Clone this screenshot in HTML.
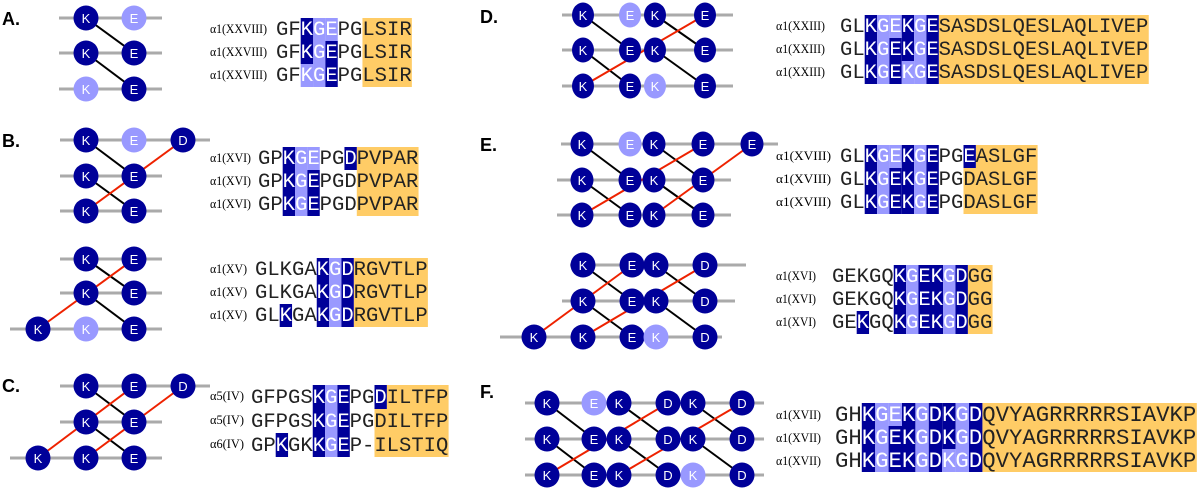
<!DOCTYPE html>
<html><head><meta charset="utf-8"><style>
html,body{margin:0;padding:0;background:#fff;width:1200px;height:488px;overflow:hidden}
svg{display:block}
.g{stroke:#aaa;stroke-width:3}
.bk{stroke:#000;stroke-width:2}
.rd{stroke:#ee2200;stroke-width:2}
.n{fill:#000099}
.l{fill:#9999ff}
.t{font-family:"Liberation Sans",sans-serif;font-size:13px;fill:#fff;text-anchor:middle}
.p{font-family:"Liberation Sans",sans-serif;font-weight:bold;font-size:18px;fill:#000}
.lb{font-family:"Liberation Serif",serif;font-size:13px;fill:#000}
.s{font-family:"Liberation Mono",monospace;font-size:20.55px;fill:#222}
.sf{font-family:"Liberation Mono",monospace;font-size:22.3px;fill:#222}
.d{fill:#000099}.li{fill:#9999ff}.o{fill:#ffcc66}
tspan.w{fill:#fff}
</style></head><body>
<svg width="1200" height="488" viewBox="0 0 1200 488" xmlns="http://www.w3.org/2000/svg">
<!-- Panel letters -->
<text class="p" x="2" y="25">A.</text>
<text class="p" x="2" y="147">B.</text>
<text class="p" x="2" y="392">C.</text>
<text class="p" x="480" y="23">D.</text>
<text class="p" x="480" y="151">E.</text>
<text class="p" x="480" y="398">F.</text>

<!-- ===== A diagram ===== -->
<line class="g" x1="59" y1="18" x2="162" y2="18"/>
<line class="g" x1="59" y1="53" x2="162" y2="53"/>
<line class="g" x1="59" y1="89" x2="162" y2="89"/>
<line class="bk" x1="86" y1="18" x2="134" y2="53"/>
<line class="bk" x1="86" y1="53" x2="134" y2="89"/>
<circle class="n" cx="86" cy="18" r="12.5"/><text class="t" x="86" y="23">K</text>
<circle class="l" cx="134" cy="18" r="12.5"/><text class="t" x="134" y="23">E</text>
<circle class="n" cx="86" cy="53" r="12.5"/><text class="t" x="86" y="58">K</text>
<circle class="n" cx="134" cy="53" r="12.5"/><text class="t" x="134" y="58">E</text>
<circle class="l" cx="86" cy="89" r="12.5"/><text class="t" x="86" y="94">K</text>
<circle class="n" cx="134" cy="89" r="12.5"/><text class="t" x="134" y="94">E</text>

<!-- A seq -->
<rect class="o" x="362.45" y="18" width="49.4" height="69"/>
<rect class="li" x="313.05" y="18" width="12.35" height="69"/>
<rect class="d" x="300.7" y="18" width="12.35" height="46"/>
<rect class="li" x="300.7" y="64" width="12.35" height="23"/>
<rect class="li" x="325.4" y="18" width="12.35" height="23"/>
<rect class="d" x="325.4" y="41" width="12.35" height="46"/>
<text class="lb" x="210" y="33" textLength="57" lengthAdjust="spacingAndGlyphs">α1(XXVIII)</text>
<text class="lb" x="210" y="56" textLength="57" lengthAdjust="spacingAndGlyphs">α1(XXVIII)</text>
<text class="lb" x="210" y="79" textLength="57" lengthAdjust="spacingAndGlyphs">α1(XXVIII)</text>
<text class="s" x="276" y="35">GF<tspan class="w">KGE</tspan>PGLSIR</text>
<text class="s" x="276" y="58">GF<tspan class="w">KGE</tspan>PGLSIR</text>
<text class="s" x="276" y="81">GF<tspan class="w">KGE</tspan>PGLSIR</text>

<!-- ===== B diagram ===== -->
<line class="g" x1="60" y1="140" x2="210" y2="140"/>
<line class="g" x1="60" y1="176" x2="162" y2="176"/>
<line class="g" x1="60" y1="211" x2="162" y2="211"/>
<line class="bk" x1="86" y1="140" x2="134" y2="176"/>
<line class="bk" x1="86" y1="176" x2="134" y2="211"/>
<line class="rd" x1="86" y1="211" x2="183" y2="140"/>
<circle class="n" cx="86" cy="140" r="12.5"/><text class="t" x="86" y="145">K</text>
<circle class="l" cx="134" cy="140" r="12.5"/><text class="t" x="134" y="145">E</text>
<circle class="n" cx="183" cy="140" r="12.5"/><text class="t" x="183" y="145">D</text>
<circle class="n" cx="86" cy="176" r="12.5"/><text class="t" x="86" y="181">K</text>
<circle class="n" cx="134" cy="176" r="12.5"/><text class="t" x="134" y="181">E</text>
<circle class="n" cx="86" cy="211" r="12.5"/><text class="t" x="86" y="216">K</text>
<circle class="n" cx="134" cy="211" r="12.5"/><text class="t" x="134" y="216">E</text>

<!-- B seq -->
<rect class="o" x="356.8" y="147" width="61.75" height="69"/>
<rect class="d" x="282.7" y="147" width="12.35" height="69"/>
<rect class="li" x="295.05" y="147" width="12.35" height="69"/>
<rect class="li" x="307.4" y="147" width="12.35" height="23"/>
<rect class="d" x="307.4" y="170" width="12.35" height="46"/>
<rect class="d" x="344.45" y="147" width="12.35" height="23"/>
<text class="lb" x="210" y="162" textLength="41" lengthAdjust="spacingAndGlyphs">α1(XVI)</text>
<text class="lb" x="210" y="185" textLength="41" lengthAdjust="spacingAndGlyphs">α1(XVI)</text>
<text class="lb" x="210" y="208" textLength="41" lengthAdjust="spacingAndGlyphs">α1(XVI)</text>
<text class="s" x="258" y="164">GP<tspan class="w">KGE</tspan>PG<tspan class="w">D</tspan>PVPAR</text>
<text class="s" x="258" y="187">GP<tspan class="w">KGE</tspan>PGDPVPAR</text>
<text class="s" x="258" y="210">GP<tspan class="w">KGE</tspan>PGDPVPAR</text>

<!-- ===== B2 diagram ===== -->
<line class="g" x1="60" y1="259" x2="162" y2="259"/>
<line class="g" x1="60" y1="293" x2="162" y2="293"/>
<line class="g" x1="10" y1="329" x2="162" y2="329"/>
<line class="bk" x1="86" y1="259" x2="134" y2="293"/>
<line class="bk" x1="86" y1="293" x2="134" y2="329"/>
<line class="rd" x1="38" y1="329" x2="134" y2="259"/>
<circle class="n" cx="86" cy="259" r="12.5"/><text class="t" x="86" y="264">K</text>
<circle class="n" cx="134" cy="259" r="12.5"/><text class="t" x="134" y="264">E</text>
<circle class="n" cx="86" cy="293" r="12.5"/><text class="t" x="86" y="298">K</text>
<circle class="n" cx="134" cy="293" r="12.5"/><text class="t" x="134" y="298">E</text>
<circle class="n" cx="38" cy="329" r="12.5"/><text class="t" x="38" y="334">K</text>
<circle class="l" cx="86" cy="329" r="12.5"/><text class="t" x="86" y="334">K</text>
<circle class="n" cx="134" cy="329" r="12.5"/><text class="t" x="134" y="334">E</text>

<!-- B2 seq -->
<rect class="o" x="353.8" y="258" width="74.1" height="69"/>
<rect class="d" x="316.75" y="258" width="12.35" height="69"/>
<rect class="li" x="329.1" y="258" width="12.35" height="69"/>
<rect class="d" x="341.45" y="258" width="12.35" height="69"/>
<rect class="d" x="279.7" y="304" width="12.35" height="23"/>
<text class="lb" x="210" y="273" textLength="37" lengthAdjust="spacingAndGlyphs">α1(XV)</text>
<text class="lb" x="210" y="296" textLength="37" lengthAdjust="spacingAndGlyphs">α1(XV)</text>
<text class="lb" x="210" y="319" textLength="37" lengthAdjust="spacingAndGlyphs">α1(XV)</text>
<text class="s" x="255" y="275">GLKGA<tspan class="w">KGD</tspan>RGVTLP</text>
<text class="s" x="255" y="298">GLKGA<tspan class="w">KGD</tspan>RGVTLP</text>
<text class="s" x="255" y="321">GL<tspan class="w">K</tspan>GA<tspan class="w">KGD</tspan>RGVTLP</text>

<!-- ===== C diagram ===== -->
<line class="g" x1="60" y1="386" x2="210" y2="386"/>
<line class="g" x1="60" y1="422" x2="162" y2="422"/>
<line class="g" x1="10" y1="458" x2="162" y2="458"/>
<line class="bk" x1="86" y1="386" x2="134" y2="422"/>
<line class="bk" x1="86" y1="422" x2="134" y2="458"/>
<line class="rd" x1="38" y1="458" x2="134" y2="386"/>
<line class="rd" x1="86" y1="458" x2="183" y2="386"/>
<circle class="n" cx="86" cy="386" r="12.5"/><text class="t" x="86" y="391">K</text>
<circle class="n" cx="134" cy="386" r="12.5"/><text class="t" x="134" y="391">E</text>
<circle class="n" cx="183" cy="386" r="12.5"/><text class="t" x="183" y="391">D</text>
<circle class="n" cx="86" cy="422" r="12.5"/><text class="t" x="86" y="427">K</text>
<circle class="n" cx="134" cy="422" r="12.5"/><text class="t" x="134" y="427">E</text>
<circle class="n" cx="38" cy="458" r="12.5"/><text class="t" x="38" y="463">K</text>
<circle class="n" cx="86" cy="458" r="12.5"/><text class="t" x="86" y="463">K</text>
<circle class="n" cx="134" cy="458" r="12.5"/><text class="t" x="134" y="463">E</text>

<!-- C seq -->
<rect class="o" x="386.85" y="385" width="61.75" height="24"/>
<rect class="o" x="374.5" y="409" width="74.1" height="48"/>
<rect class="d" x="374.5" y="385" width="12.35" height="24"/>
<rect class="d" x="312.75" y="385" width="12.35" height="72"/>
<rect class="li" x="325.1" y="385" width="12.35" height="72"/>
<rect class="d" x="337.45" y="385" width="12.35" height="72"/>
<rect class="d" x="275.7" y="433" width="12.35" height="24"/>
<text class="lb" x="210" y="400" textLength="34" lengthAdjust="spacingAndGlyphs">α5(IV)</text>
<text class="lb" x="210" y="424" textLength="34" lengthAdjust="spacingAndGlyphs">α5(IV)</text>
<text class="lb" x="210" y="448" textLength="34" lengthAdjust="spacingAndGlyphs">α6(IV)</text>
<text class="s" x="251" y="403">GFPGS<tspan class="w">KGE</tspan>PG<tspan class="w">D</tspan>ILTFP</text>
<text class="s" x="251" y="427">GFPGS<tspan class="w">KGE</tspan>PGDILTFP</text>
<text class="s" x="251" y="451">GP<tspan class="w">K</tspan>GK<tspan class="w">KGE</tspan>P-ILSTIQ</text>

<!-- ===== D diagram ===== -->
<line class="g" x1="562" y1="15" x2="733" y2="15"/>
<line class="g" x1="562" y1="50" x2="733" y2="50"/>
<line class="g" x1="562" y1="86" x2="733" y2="86"/>
<line class="bk" x1="583" y1="15" x2="630" y2="50"/>
<line class="bk" x1="583" y1="50" x2="630" y2="86"/>
<line class="bk" x1="655" y1="15" x2="705" y2="50"/>
<line class="bk" x1="655" y1="50" x2="705" y2="86"/>
<line class="rd" x1="583" y1="86" x2="705" y2="15"/>
<ellipse class="n" cx="583" cy="15" rx="11" ry="12.5"/><text class="t" x="583" y="20">K</text>
<ellipse class="l" cx="630" cy="15" rx="11" ry="12.5"/><text class="t" x="630" y="20">E</text>
<ellipse class="n" cx="655" cy="15" rx="11" ry="12.5"/><text class="t" x="655" y="20">K</text>
<ellipse class="n" cx="705" cy="15" rx="11" ry="12.5"/><text class="t" x="705" y="20">E</text>
<ellipse class="n" cx="583" cy="50" rx="11" ry="12.5"/><text class="t" x="583" y="55">K</text>
<ellipse class="n" cx="630" cy="50" rx="11" ry="12.5"/><text class="t" x="630" y="55">E</text>
<ellipse class="n" cx="655" cy="50" rx="11" ry="12.5"/><text class="t" x="655" y="55">K</text>
<ellipse class="n" cx="705" cy="50" rx="11" ry="12.5"/><text class="t" x="705" y="55">E</text>
<ellipse class="n" cx="583" cy="86" rx="11" ry="12.5"/><text class="t" x="583" y="91">K</text>
<ellipse class="n" cx="630" cy="86" rx="11" ry="12.5"/><text class="t" x="630" y="91">E</text>
<ellipse class="l" cx="655" cy="86" rx="11" ry="12.5"/><text class="t" x="655" y="91">K</text>
<ellipse class="n" cx="705" cy="86" rx="11" ry="12.5"/><text class="t" x="705" y="91">E</text>

<!-- D seq -->
<rect class="o" x="938.8" y="15" width="209.95" height="69"/>
<rect class="d" x="864.7" y="15" width="12.35" height="69"/>
<rect class="li" x="877.05" y="15" width="12.35" height="69"/>
<rect class="li" x="889.4" y="15" width="12.35" height="23"/>
<rect class="d" x="889.4" y="38" width="12.35" height="46"/>
<rect class="d" x="901.75" y="15" width="12.35" height="46"/>
<rect class="li" x="901.75" y="61" width="12.35" height="23"/>
<rect class="li" x="914.1" y="15" width="12.35" height="69"/>
<rect class="d" x="926.45" y="15" width="12.35" height="69"/>
<text class="lb" x="776" y="30" textLength="49" lengthAdjust="spacingAndGlyphs">α1(XXIII)</text>
<text class="lb" x="776" y="53" textLength="49" lengthAdjust="spacingAndGlyphs">α1(XXIII)</text>
<text class="lb" x="776" y="76" textLength="49" lengthAdjust="spacingAndGlyphs">α1(XXIII)</text>
<text class="s" x="840" y="32">GL<tspan class="w">KGEKGE</tspan>SASDSLQESLAQLIVEP</text>
<text class="s" x="840" y="55">GL<tspan class="w">KGEKGE</tspan>SASDSLQESLAQLIVEP</text>
<text class="s" x="840" y="78">GL<tspan class="w">KGEKGE</tspan>SASDSLQESLAQLIVEP</text>

<!-- ===== E diagram ===== -->
<line class="g" x1="561" y1="144" x2="778" y2="144"/>
<line class="g" x1="557" y1="180" x2="731" y2="180"/>
<line class="g" x1="557" y1="215" x2="731" y2="215"/>
<line class="bk" x1="582" y1="144" x2="630" y2="180"/>
<line class="bk" x1="582" y1="180" x2="630" y2="215"/>
<line class="bk" x1="654" y1="144" x2="703" y2="180"/>
<line class="bk" x1="654" y1="180" x2="703" y2="215"/>
<line class="rd" x1="582" y1="215" x2="703" y2="144"/>
<line class="rd" x1="654" y1="215" x2="752" y2="144"/>
<ellipse class="n" cx="582" cy="144" rx="11.5" ry="12.5"/><text class="t" x="582" y="149">K</text>
<ellipse class="l" cx="630" cy="144" rx="11.5" ry="12.5"/><text class="t" x="630" y="149">E</text>
<ellipse class="n" cx="654" cy="144" rx="11.5" ry="12.5"/><text class="t" x="654" y="149">K</text>
<ellipse class="n" cx="703" cy="144" rx="11.5" ry="12.5"/><text class="t" x="703" y="149">E</text>
<ellipse class="n" cx="752" cy="144" rx="11.5" ry="12.5"/><text class="t" x="752" y="149">E</text>
<ellipse class="n" cx="582" cy="180" rx="11.5" ry="12.5"/><text class="t" x="582" y="185">K</text>
<ellipse class="n" cx="630" cy="180" rx="11.5" ry="12.5"/><text class="t" x="630" y="185">E</text>
<ellipse class="n" cx="654" cy="180" rx="11.5" ry="12.5"/><text class="t" x="654" y="185">K</text>
<ellipse class="n" cx="703" cy="180" rx="11.5" ry="12.5"/><text class="t" x="703" y="185">E</text>
<ellipse class="n" cx="582" cy="215" rx="11.5" ry="12.5"/><text class="t" x="582" y="220">K</text>
<ellipse class="n" cx="630" cy="215" rx="11.5" ry="12.5"/><text class="t" x="630" y="220">E</text>
<ellipse class="n" cx="654" cy="215" rx="11.5" ry="12.5"/><text class="t" x="654" y="220">K</text>
<ellipse class="n" cx="703" cy="215" rx="11.5" ry="12.5"/><text class="t" x="703" y="220">E</text>

<!-- E seq -->
<rect class="o" x="975.85" y="145" width="61.75" height="23"/>
<rect class="o" x="963.5" y="168" width="74.1" height="46"/>
<rect class="d" x="963.5" y="145" width="12.35" height="23"/>
<rect class="d" x="864.7" y="145" width="12.35" height="69"/>
<rect class="li" x="877.05" y="145" width="12.35" height="69"/>
<rect class="li" x="889.4" y="145" width="12.35" height="23"/>
<rect class="d" x="889.4" y="168" width="12.35" height="46"/>
<rect class="d" x="901.75" y="145" width="12.35" height="69"/>
<rect class="li" x="914.1" y="145" width="12.35" height="69"/>
<rect class="d" x="926.45" y="145" width="12.35" height="69"/>
<text class="lb" x="776" y="160" textLength="55" lengthAdjust="spacingAndGlyphs">α1(XVIII)</text>
<text class="lb" x="776" y="183" textLength="55" lengthAdjust="spacingAndGlyphs">α1(XVIII)</text>
<text class="lb" x="776" y="206" textLength="55" lengthAdjust="spacingAndGlyphs">α1(XVIII)</text>
<text class="s" x="840" y="162">GL<tspan class="w">KGEKGE</tspan>PG<tspan class="w">E</tspan>ASLGF</text>
<text class="s" x="840" y="185">GL<tspan class="w">KGEKGE</tspan>PGDASLGF</text>
<text class="s" x="840" y="208">GL<tspan class="w">KGEKGE</tspan>PGDASLGF</text>

<!-- ===== E2 diagram ===== -->
<line class="g" x1="570" y1="265" x2="746" y2="265"/>
<line class="g" x1="562" y1="301" x2="735" y2="301"/>
<line class="g" x1="500" y1="337" x2="722" y2="337"/>
<line class="bk" x1="583" y1="265" x2="632" y2="301"/>
<line class="bk" x1="583" y1="301" x2="632" y2="337"/>
<line class="bk" x1="656" y1="265" x2="705" y2="301"/>
<line class="bk" x1="656" y1="301" x2="705" y2="337"/>
<line class="rd" x1="534" y1="337" x2="632" y2="265"/>
<line class="rd" x1="583" y1="337" x2="705" y2="265"/>
<circle class="n" cx="583" cy="265" r="12.5"/><text class="t" x="583" y="270">K</text>
<circle class="n" cx="632" cy="265" r="12.5"/><text class="t" x="632" y="270">E</text>
<circle class="n" cx="656" cy="265" r="12.5"/><text class="t" x="656" y="270">K</text>
<circle class="n" cx="705" cy="265" r="12.5"/><text class="t" x="705" y="270">D</text>
<circle class="n" cx="583" cy="301" r="12.5"/><text class="t" x="583" y="306">K</text>
<circle class="n" cx="632" cy="301" r="12.5"/><text class="t" x="632" y="306">E</text>
<circle class="n" cx="656" cy="301" r="12.5"/><text class="t" x="656" y="306">K</text>
<circle class="n" cx="705" cy="301" r="12.5"/><text class="t" x="705" y="306">D</text>
<circle class="n" cx="534" cy="337" r="12.5"/><text class="t" x="534" y="342">K</text>
<circle class="n" cx="583" cy="337" r="12.5"/><text class="t" x="583" y="342">K</text>
<circle class="n" cx="632" cy="337" r="12.5"/><text class="t" x="632" y="342">E</text>
<circle class="l" cx="656" cy="337" r="12.5"/><text class="t" x="656" y="342">K</text>
<circle class="n" cx="705" cy="337" r="12.5"/><text class="t" x="705" y="342">D</text>

<!-- E2 seq -->
<rect class="o" x="967.85" y="265" width="24.7" height="69"/>
<rect class="d" x="893.75" y="265" width="12.35" height="69"/>
<rect class="li" x="906.1" y="265" width="12.35" height="69"/>
<rect class="d" x="918.45" y="265" width="24.7" height="69"/>
<rect class="li" x="943.15" y="265" width="12.35" height="69"/>
<rect class="d" x="955.5" y="265" width="12.35" height="69"/>
<rect class="d" x="856.7" y="311" width="12.35" height="23"/>
<text class="lb" x="776" y="280" textLength="40" lengthAdjust="spacingAndGlyphs">α1(XVI)</text>
<text class="lb" x="776" y="303" textLength="40" lengthAdjust="spacingAndGlyphs">α1(XVI)</text>
<text class="lb" x="776" y="326" textLength="40" lengthAdjust="spacingAndGlyphs">α1(XVI)</text>
<text class="s" x="832" y="282">GEKGQ<tspan class="w">KGEKGD</tspan>GG</text>
<text class="s" x="832" y="305">GEKGQ<tspan class="w">KGEKGD</tspan>GG</text>
<text class="s" x="832" y="328">GE<tspan class="w">K</tspan>GQ<tspan class="w">KGEKGD</tspan>GG</text>

<!-- ===== F diagram ===== -->
<line class="g" x1="525" y1="403" x2="764" y2="403"/>
<line class="g" x1="525" y1="439" x2="764" y2="439"/>
<line class="g" x1="525" y1="475" x2="764" y2="475"/>
<line class="bk" x1="547" y1="403" x2="594" y2="439"/>
<line class="bk" x1="547" y1="439" x2="594" y2="475"/>
<line class="bk" x1="619" y1="403" x2="668" y2="439"/>
<line class="bk" x1="619" y1="439" x2="668" y2="475"/>
<line class="bk" x1="693" y1="403" x2="742" y2="439"/>
<line class="bk" x1="693" y1="439" x2="742" y2="475"/>
<line class="rd" x1="547" y1="475" x2="668" y2="403"/>
<line class="rd" x1="619" y1="475" x2="742" y2="403"/>
<circle class="n" cx="547" cy="403" r="12.5"/><text class="t" x="547" y="408">K</text>
<circle class="l" cx="594" cy="403" r="12.5"/><text class="t" x="594" y="408">E</text>
<circle class="n" cx="619" cy="403" r="12.5"/><text class="t" x="619" y="408">K</text>
<circle class="n" cx="668" cy="403" r="12.5"/><text class="t" x="668" y="408">D</text>
<circle class="n" cx="693" cy="403" r="12.5"/><text class="t" x="693" y="408">K</text>
<circle class="n" cx="742" cy="403" r="12.5"/><text class="t" x="742" y="408">D</text>
<circle class="n" cx="547" cy="439" r="12.5"/><text class="t" x="547" y="444">K</text>
<circle class="n" cx="594" cy="439" r="12.5"/><text class="t" x="594" y="444">E</text>
<circle class="n" cx="619" cy="439" r="12.5"/><text class="t" x="619" y="444">K</text>
<circle class="n" cx="668" cy="439" r="12.5"/><text class="t" x="668" y="444">D</text>
<circle class="n" cx="693" cy="439" r="12.5"/><text class="t" x="693" y="444">K</text>
<circle class="n" cx="742" cy="439" r="12.5"/><text class="t" x="742" y="444">D</text>
<circle class="n" cx="547" cy="475" r="12.5"/><text class="t" x="547" y="480">K</text>
<circle class="n" cx="594" cy="475" r="12.5"/><text class="t" x="594" y="480">E</text>
<circle class="n" cx="619" cy="475" r="12.5"/><text class="t" x="619" y="480">K</text>
<circle class="n" cx="668" cy="475" r="12.5"/><text class="t" x="668" y="480">D</text>
<circle class="l" cx="693" cy="475" r="12.5"/><text class="t" x="693" y="480">K</text>
<circle class="n" cx="742" cy="475" r="12.5"/><text class="t" x="742" y="480">D</text>

<!-- F seq -->
<rect class="o" x="982.4" y="403" width="214.4" height="69"/>
<rect class="d" x="861.8" y="403" width="13.4" height="69"/>
<rect class="li" x="875.2" y="403" width="13.4" height="69"/>
<rect class="li" x="888.6" y="403" width="13.4" height="23"/>
<rect class="d" x="888.6" y="426" width="13.4" height="46"/>
<rect class="d" x="902" y="403" width="13.4" height="69"/>
<rect class="li" x="915.4" y="403" width="13.4" height="69"/>
<rect class="d" x="928.8" y="403" width="13.4" height="69"/>
<rect class="d" x="942.2" y="403" width="13.4" height="46"/>
<rect class="li" x="942.2" y="449" width="13.4" height="23"/>
<rect class="li" x="955.6" y="403" width="13.4" height="69"/>
<rect class="d" x="969" y="403" width="13.4" height="69"/>
<text class="lb" x="776" y="419" textLength="45" lengthAdjust="spacingAndGlyphs">α1(XVII)</text>
<text class="lb" x="776" y="442" textLength="45" lengthAdjust="spacingAndGlyphs">α1(XVII)</text>
<text class="lb" x="776" y="465" textLength="45" lengthAdjust="spacingAndGlyphs">α1(XVII)</text>
<text class="sf" x="835" y="421">GH<tspan class="w">KGEKGDKGD</tspan>QVYAGRRRRRSIAVKP</text>
<text class="sf" x="835" y="444">GH<tspan class="w">KGEKGDKGD</tspan>QVYAGRRRRRSIAVKP</text>
<text class="sf" x="835" y="467">GH<tspan class="w">KGEKGDKGD</tspan>QVYAGRRRRRSIAVKP</text>
</svg>
</body></html>
